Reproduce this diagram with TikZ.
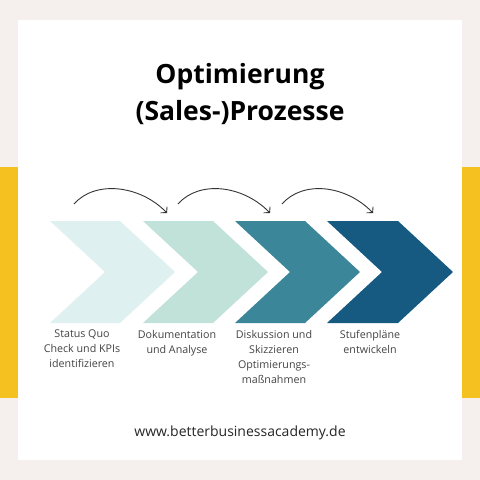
\documentclass[tikz,border=0pt]{standalone}
\usepackage{fontspec}
\setmainfont{Open Sans}
\usepackage{tikz}
\usetikzlibrary{arrows.meta}
\usetikzlibrary{calc,positioning}

\definecolor{pagebg}{HTML}{F5F0ED}
\definecolor{barye}{HTML}{F4C120}
\definecolor{chevA}{HTML}{DFF0F0}
\definecolor{chevB}{HTML}{C0E2D9}
\definecolor{chevC}{HTML}{3B8799}
\definecolor{chevD}{HTML}{165A82}
\definecolor{labelgray}{HTML}{444444}

\tikzset{
  steplabel/.style={anchor=north,align=center,text=labelgray,inner sep=0pt,
    font=\fontsize{10.7}{15}\selectfont},
  hoparrow/.style={draw=black!80,line width=0.9pt,-{Straight Barb[length=4pt,width=9pt]}}
}

\begin{document}
\begin{tikzpicture}[x=1pt,y=-1pt]
			\useasboundingbox (0,0) rectangle (480,480);
			\begin{scope}
				% page and side bars
				\fill[pagebg] (0,0) rectangle (480,480);
				\fill[barye] (0,167) rectangle (480,398);
				\fill[white] (18,20) rectangle (462,460);
			\end{scope}
			% title
			\node[font=\fontsize{26.5}{37}\selectfont\bfseries,align=center] (title) at (240,94) {Optimierung\\(Sales-)Prozesse};
			% chevrons
			\fill[chevA] (50,221) -- (120,221) -- (175,272) -- (120,323) -- (50,323) -- (105,272) -- cycle;
			\fill[chevB] (143,221) -- (213,221) -- (268,272) -- (213,323) -- (143,323) -- (198,272) -- cycle;
			\fill[chevC] (235,221) -- (305,221) -- (360,272) -- (305,323) -- (235,323) -- (290,272) -- cycle;
			\fill[chevD] (327,221) -- (398,221) -- (453,272) -- (398,323) -- (327,323) -- (382,272) -- cycle;
			% arrows over the chevrons
			\coordinate (s1) at (74,204);
			\coordinate (e1) at (167,213);
			\coordinate (s2) at (178,204);
			\coordinate (e2) at (270,213);
			\coordinate (s3) at (282,204);
			\coordinate (e3) at (373,213);
			\draw[hoparrow] (s1) .. controls ($(s1)+(21,-24)$) and ($(e1)+(-27,-28)$) .. (e1);
			\draw[hoparrow] (s2) .. controls ($(s2)+(21,-24)$) and ($(e2)+(-27,-28)$) .. (e2);
			\draw[hoparrow] (s3) .. controls ($(s3)+(21,-24)$) and ($(e3)+(-27,-28)$) .. (e3);
			% step labels
			\node[steplabel] (l1) at (82,330) {Status Quo\\Check und KPIs\\identifizieren};
			\node[steplabel] (l2) at (177,330) {Dokumentation\\und Analyse};
			\node[steplabel] (l3) at (274,330) {Diskussion und\\Skizzieren\\Optimierungs-\\maßnahmen};
			\node[steplabel] (l4) at (370,330) {Stufenpläne\\entwickeln};
			% footer
			\node[font=\fontsize{14}{16}\selectfont,text=black!85] (url) at (240,433) {www.betterbusinessacademy.de};
		\end{tikzpicture}
\end{document}
